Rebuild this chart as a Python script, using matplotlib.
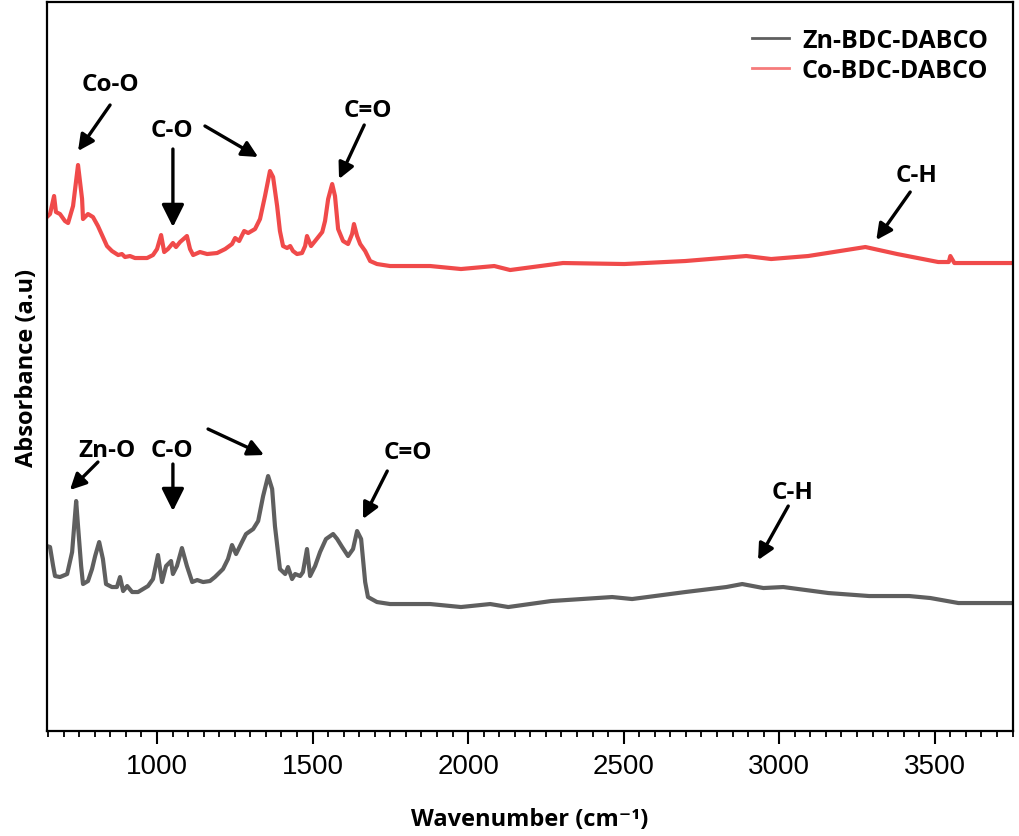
import matplotlib
matplotlib.use("Agg")
import matplotlib.pyplot as plt
from matplotlib.ticker import MultipleLocator

# ---------------- data ----------------
co_wn = [646, 656, 669, 675, 688, 704, 714, 730, 746, 759, 762, 778, 794, 810, 826, 839,
         855, 875, 887, 897, 913, 929, 968, 987, 1000, 1013, 1023, 1035, 1051, 1061, 1074,
         1096, 1106, 1116, 1138, 1161, 1193, 1219, 1241, 1251, 1264, 1280, 1293, 1315, 1331,
         1347, 1363, 1373, 1386, 1395, 1405, 1418, 1428, 1437, 1450, 1466, 1476, 1482, 1495,
         1508, 1531, 1540, 1550, 1563, 1572, 1582, 1598, 1614, 1627, 1633, 1643, 1653, 1669,
         1685, 1707, 1749, 1878, 1977, 2084, 2135, 2305, 2502, 2698, 2894, 2974, 3093, 3277,
         3379, 3511, 3545, 3550, 3563, 3746]
co_abs = [514, 517, 535, 519, 517, 510, 508, 525, 566, 532, 512, 517, 514, 505, 494, 485,
          480, 476, 477, 474, 475, 473, 473, 476, 482, 496, 479, 482, 488, 484, 489,
          495, 482, 476, 479, 477, 478, 482, 487, 493, 490, 500, 498, 502, 512,
          535, 560, 554, 525, 500, 485, 483, 485, 480, 477, 478, 485, 495, 485,
          490, 499, 510, 532, 547, 535, 502, 490, 487, 497, 507, 495, 487, 480,
          470, 467, 465, 465, 462, 465, 461, 468, 467, 470, 475, 472, 475, 484,
          477, 469, 469, 475, 468, 468]

zn_wn = [646, 656, 666, 672, 688, 711, 727, 740, 746, 756, 762, 778, 791, 801, 814, 826,
         836, 855, 871, 881, 891, 904, 920, 939, 971, 987, 1003, 1016, 1029, 1045, 1051,
         1064, 1080, 1096, 1113, 1129, 1148, 1170, 1186, 1212, 1228, 1241, 1254, 1273, 1286,
         1309, 1325, 1341, 1357, 1370, 1379, 1395, 1412, 1421, 1434, 1444, 1460, 1469, 1482,
         1492, 1508, 1524, 1543, 1566, 1579, 1595, 1614, 1630, 1643, 1656, 1669, 1678, 1707,
         1749, 1878, 1977, 2071, 2129, 2267, 2463, 2527, 2698, 2830, 2881, 2949, 3013, 3158,
         3289, 3418, 3486, 3576, 3746]
zn_abs = [185, 184, 165, 155, 154, 157, 179, 230, 205, 165, 147, 150, 162, 175, 189, 172,
          147, 144, 144, 154, 140, 145, 139, 139, 145, 152, 176, 149, 165, 170, 157,
          165, 183, 165, 149, 151, 149, 150, 154, 162, 172, 186, 177, 189, 197,
          202, 210, 235, 255, 242, 205, 162, 157, 164, 152, 157, 155, 159, 182,
          155, 165, 179, 192, 197, 192, 184, 175, 182, 200, 192, 149, 134, 129,
          127, 127, 124, 127, 124, 130, 134, 132, 139, 144, 147, 143, 144, 138,
          135, 135, 133, 128, 128]

series_names = ["Zn-BDC-DABCO", "Co-BDC-DABCO"]

# annotations: (label, text position, arrow tail, arrow tip, big head)
annotations = [
    ("Co-O", (849, 647), (849, 626), (746, 580), False),
    ("C-O", (1048, 601), (1051, 582), (1051, 504), True),
    (None, None, (1154, 605), (1325, 574), False),
    ("C=O", (1678, 621), (1666, 606), (1585, 552), False),
    ("C-H", (3440, 556), (3421, 539), (3312, 491), False),
    ("Zn-O", (839, 281), (810, 269), (720, 241), False),
    ("C-O", (1048, 281), (1051, 267), (1051, 220), True),
    (None, None, (1164, 302), (1344, 276), False),
    ("C=O", (1807, 279), (1740, 260), (1662, 212), False),
    ("C-H", (3042, 239), (3029, 225), (2932, 171), False),
]

# ---------------- figure ----------------
fig = plt.figure(figsize=(10.2, 8.37), dpi=100)
ax = fig.add_axes([0.046, 0.1254, 0.947, 0.871])

bold_font = ["Open Sans", "DejaVu Sans"]

ax.plot(zn_wn, zn_abs, color="#5f5f5f", lw=3.0, label=series_names[0], solid_joinstyle="round")
ax.plot(co_wn, co_abs, color="#f04a4a", lw=3.0, label=series_names[1], solid_joinstyle="round")

ax.set_xlim(646, 3751)
ax.set_ylim(0, 729)

for lab, tpos, tail, tip, big in annotations:
    ms = 34 if big else 24
    ax.annotate("", xy=tip, xytext=tail,
                arrowprops=dict(arrowstyle="-|>", color="black", lw=2.4,
                                mutation_scale=ms, shrinkA=0, shrinkB=0))
    if lab:
        ax.text(tpos[0], tpos[1], lab, ha="center", va="center", fontsize=17.5,
                fontweight="bold", family=bold_font)

ax.xaxis.set_major_locator(MultipleLocator(500))
ax.xaxis.set_minor_locator(MultipleLocator(50))
ax.tick_params(axis="x", which="major", length=9, width=1.5, direction="out",
               labelsize=20, pad=7)
ax.tick_params(axis="x", which="minor", length=4.5, width=1.3, direction="out")
ax.set_yticks([])
for lab in ax.get_xticklabels():
    lab.set_family(["Liberation Sans", "DejaVu Sans"])

for s in ax.spines.values():
    s.set_linewidth(1.6)

ax.set_xlabel("Wavenumber (cm\u207b\u00b9)", fontsize=17, fontweight="bold",
              family=bold_font, labelpad=20)
ax.set_ylabel("Absorbance (a.u)", fontsize=17, fontweight="bold", family=bold_font,
              labelpad=6)

leg = ax.legend(loc="upper right", bbox_to_anchor=(0.998, 0.995), frameon=False,
                handlelength=1.5, handletextpad=0.5, labelspacing=0.2,
                prop=dict(family=bold_font, weight="bold", size=18))
for h in leg.get_lines():
    h.set_linewidth(2.0)
leg.get_lines()[1].set_color("#f67b7b")

fig.savefig("out.png", dpi=100)
